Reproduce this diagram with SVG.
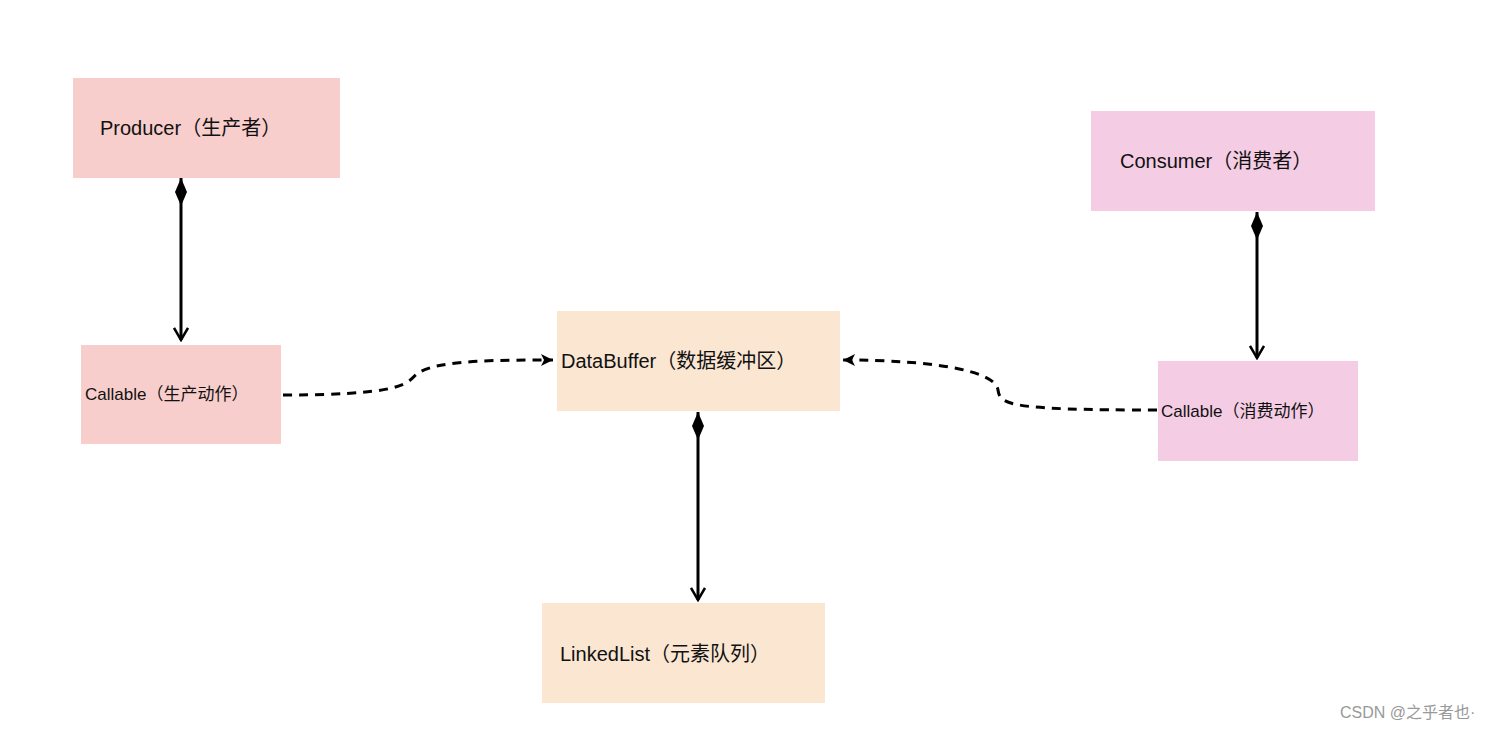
<svg xmlns="http://www.w3.org/2000/svg" width="1504" height="730" viewBox="0 0 1504 730">
<style>
text{font-family:"Liberation Sans","Noto Sans CJK SC",sans-serif;fill:#111}
.a{fill:#f8cecc}.b{fill:#f4cde4}.c{fill:#fae6d1}
.l{stroke:#000;stroke-width:3;fill:none}
.d{stroke-dasharray:9 7}
</style>
<defs>
<marker id="o" viewBox="0 0 16 16" refX="14" refY="8" markerWidth="16" markerHeight="16" markerUnits="userSpaceOnUse" orient="auto"><path d="M2 1L14 8L2 15" fill="none" stroke="#000" stroke-width="2.5"/></marker>
<marker id="f" viewBox="0 0 16 16" refX="14" refY="8" markerWidth="16" markerHeight="16" markerUnits="userSpaceOnUse" orient="auto"><path d="M2 2L14 8L2 14L5 8Z" fill="#000"/></marker>
<marker id="dm" viewBox="0 0 30 14" refX="1" refY="7" markerWidth="30" markerHeight="14" markerUnits="userSpaceOnUse" orient="auto"><path d="M1 7L15 1L29 7L15 13Z" fill="#000"/></marker>
</defs>
<rect width="1504" height="730" fill="#fff"/>
<g id="producer"><rect class="a" x="73" y="78" width="267" height="100"/><text x="100" y="135" font-size="20">Producer（生产者）</text></g>
<g id="callable-p"><rect class="a" x="81" y="345" width="200" height="99"/><text x="85" y="400" font-size="17">Callable（生产动作）</text></g>
<g id="consumer"><rect class="b" x="1091" y="111" width="284" height="100"/><text x="1120" y="168" font-size="20">Consumer（消费者）</text></g>
<g id="callable-c"><rect class="b" x="1158" y="361" width="200" height="100"/><text x="1161" y="417" font-size="17">Callable（消费动作）</text></g>
<g id="databuffer"><rect class="c" x="557" y="311" width="283" height="100"/><text x="561" y="368" font-size="20">DataBuffer（数据缓冲区）</text></g>
<g id="linkedlist"><rect class="c" x="542" y="603" width="283" height="100"/><text x="560" y="661" font-size="20">LinkedList（元素队列）</text></g>
<g id="connectors">
<path class="l" d="M181 178V340" marker-start="url(#dm)" marker-end="url(#o)"/>
<path class="l" d="M1257 212V358" marker-start="url(#dm)" marker-end="url(#o)"/>
<path class="l" d="M698 412V600" marker-start="url(#dm)" marker-end="url(#o)"/>
<path class="l d" d="M283 395C420 395 405 380 420 372C440 360 500 360 553 360" marker-end="url(#f)"/>
<path class="l d" d="M1157 410C1010 410 1000 405 998 390C995 370 930 360 843 360" marker-end="url(#f)"/>
</g>
<text x="1340" y="718" font-size="16" style="fill:#999">CSDN @之乎者也·</text>
</svg>
